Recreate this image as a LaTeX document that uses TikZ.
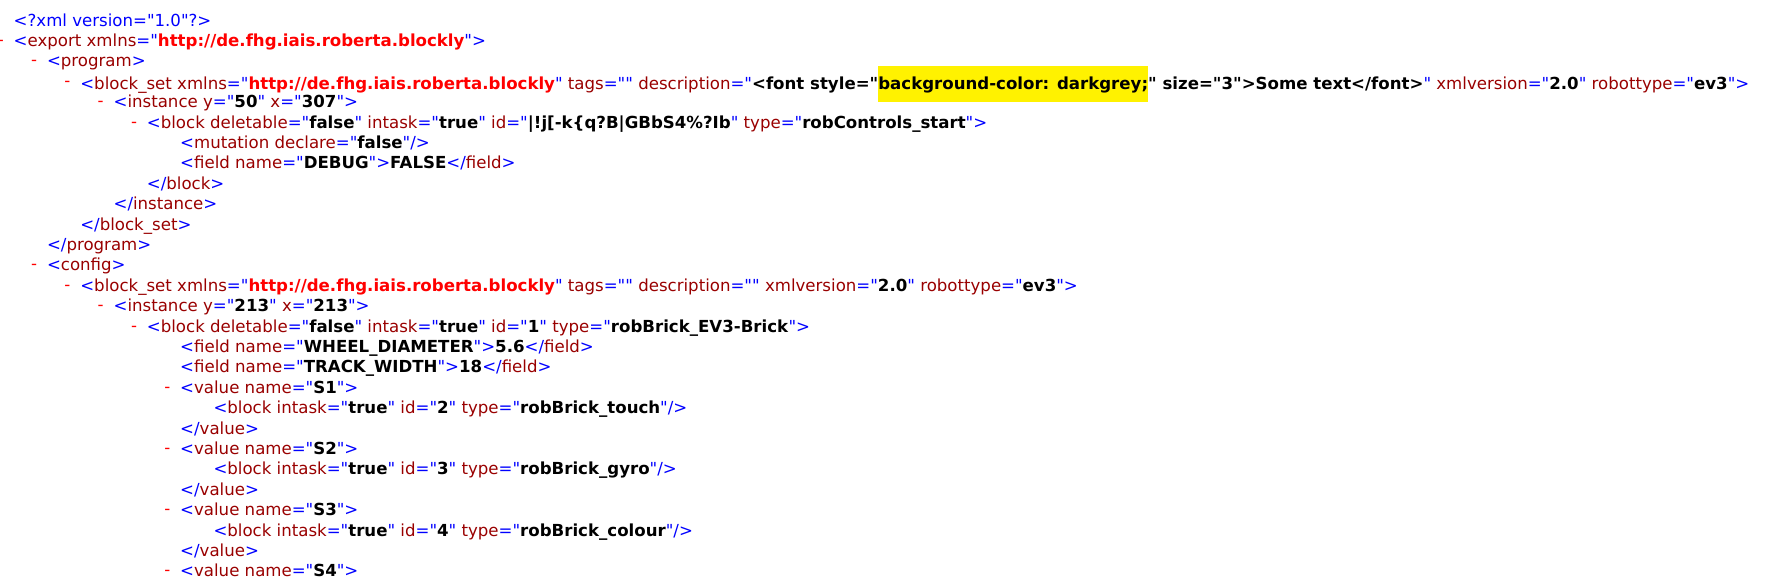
\documentclass[tikz,border=0pt]{standalone}
\usepackage{fontspec}
\setmainfont{DejaVu Sans}[Ligatures=TeXOff]
\definecolor{xb}{HTML}{0000FF}
\definecolor{xr}{HTML}{990000}
\definecolor{xu}{HTML}{FF0000}
\newcommand\q{\char"0022\relax}
\newcommand\xB[1]{\textcolor{xb}{#1}}
\newcommand\xR[1]{\textcolor{xr}{#1}}
\newcommand\xV[1]{\textbf{#1}}
\newcommand\xU[1]{\textcolor{xu}{\textbf{#1}}}
\newcommand\xA[2]{ \xR{#1}\xB{=\q}\xV{#2}\xB{\q}}
\newcommand\xAU[2]{ \xR{#1}\xB{=\q}\xU{#2}\xB{\q}}
\begin{document}
\begin{tikzpicture}[x=1pt,y=-1pt,
  ln/.style={anchor=west,inner sep=0pt,font=\fontsize{16.6}{18}\selectfont},
  dsh/.style={anchor=east,inner sep=0pt,text=xu,font=\fontsize{16.6}{18}\selectfont}]
\useasboundingbox (0,0) rectangle (1769,581);
\setlength\fboxsep{0pt}
\newcommand\xL[4]{%
  \node[ln] (#1) at ({13.5+33.3*#2},{22.5+20.4*(#3-1)}) {\strut#4};}
\newcommand\xD[3]{\node[dsh] (#1) at ({4+33.3*#2},{22.5+20.4*(#3-1)}) {-};}
\xL{l1}{0}{1}{\xB{<?xml version=\q1.0\q?>}}
\xD{d2}{0}{2}\xL{l2}{0}{2}{\xB{<}\xR{export}\xAU{xmlns}{http://de.fhg.iais.roberta.blockly}\xB{>}}
\xD{d3}{1}{3}\xL{l3}{1}{3}{\xB{<}\xR{program}\xB{>}}
\xD{d4}{2}{4}\xL{l4}{2}{4}{\xB{<}\xR{block\_set}\xAU{xmlns}{http://de.fhg.iais.roberta.blockly}\xA{tags}{}\ \xR{description}\xB{=\q}\xV{<font style=\q\colorbox{yellow}{\rule[-12pt]{0pt}{36pt}background-color: darkgrey;}\q{} size=\q3\q>Some text</font>}\xB{\q}\xA{xmlversion}{2.0}\xA{robottype}{ev3}\xB{>}}
\xD{d5}{3}{5}\xL{l5}{3}{5}{\xB{<}\xR{instance}\xA{y}{50}\xA{x}{307}\xB{>}}
\xD{d6}{4}{6}\xL{l6}{4}{6}{\xB{<}\xR{block}\xA{deletable}{false}\xA{intask}{true}\xA{id}{|!j[-k\{q?B|GBbS4\%?Ib}\xA{type}{robControls\_start}\xB{>}}
\xL{l7}{5}{7}{\xB{<}\xR{mutation}\xA{declare}{false}\xB{/>}}
\xL{l8}{5}{8}{\xB{<}\xR{field}\xA{name}{DEBUG}\xB{>}\xV{FALSE}\xB{</}\xR{field}\xB{>}}
\xL{l9}{4}{9}{\xB{</}\xR{block}\xB{>}}
\xL{l10}{3}{10}{\xB{</}\xR{instance}\xB{>}}
\xL{l11}{2}{11}{\xB{</}\xR{block\_set}\xB{>}}
\xL{l12}{1}{12}{\xB{</}\xR{program}\xB{>}}
\xD{d13}{1}{13}\xL{l13}{1}{13}{\xB{<}\xR{config}\xB{>}}
\xD{d14}{2}{14}\xL{l14}{2}{14}{\xB{<}\xR{block\_set}\xAU{xmlns}{http://de.fhg.iais.roberta.blockly}\xA{tags}{}\xA{description}{}\xA{xmlversion}{2.0}\xA{robottype}{ev3}\xB{>}}
\xD{d15}{3}{15}\xL{l15}{3}{15}{\xB{<}\xR{instance}\xA{y}{213}\xA{x}{213}\xB{>}}
\xD{d16}{4}{16}\xL{l16}{4}{16}{\xB{<}\xR{block}\xA{deletable}{false}\xA{intask}{true}\xA{id}{1}\xA{type}{robBrick\_EV3-Brick}\xB{>}}
\xL{l17}{5}{17}{\xB{<}\xR{field}\xA{name}{WHEEL\_DIAMETER}\xB{>}\xV{5.6}\xB{</}\xR{field}\xB{>}}
\xL{l18}{5}{18}{\xB{<}\xR{field}\xA{name}{TRACK\_WIDTH}\xB{>}\xV{18}\xB{</}\xR{field}\xB{>}}
\xD{d19}{5}{19}\xL{l19}{5}{19}{\xB{<}\xR{value}\xA{name}{S1}\xB{>}}
\xL{l20}{6}{20}{\xB{<}\xR{block}\xA{intask}{true}\xA{id}{2}\xA{type}{robBrick\_touch}\xB{/>}}
\xL{l21}{5}{21}{\xB{</}\xR{value}\xB{>}}
\xD{d22}{5}{22}\xL{l22}{5}{22}{\xB{<}\xR{value}\xA{name}{S2}\xB{>}}
\xL{l23}{6}{23}{\xB{<}\xR{block}\xA{intask}{true}\xA{id}{3}\xA{type}{robBrick\_gyro}\xB{/>}}
\xL{l24}{5}{24}{\xB{</}\xR{value}\xB{>}}
\xD{d25}{5}{25}\xL{l25}{5}{25}{\xB{<}\xR{value}\xA{name}{S3}\xB{>}}
\xL{l26}{6}{26}{\xB{<}\xR{block}\xA{intask}{true}\xA{id}{4}\xA{type}{robBrick\_colour}\xB{/>}}
\xL{l27}{5}{27}{\xB{</}\xR{value}\xB{>}}
\xD{d28}{5}{28}\xL{l28}{5}{28}{\xB{<}\xR{value}\xA{name}{S4}\xB{>}}
\end{tikzpicture}
\end{document}
